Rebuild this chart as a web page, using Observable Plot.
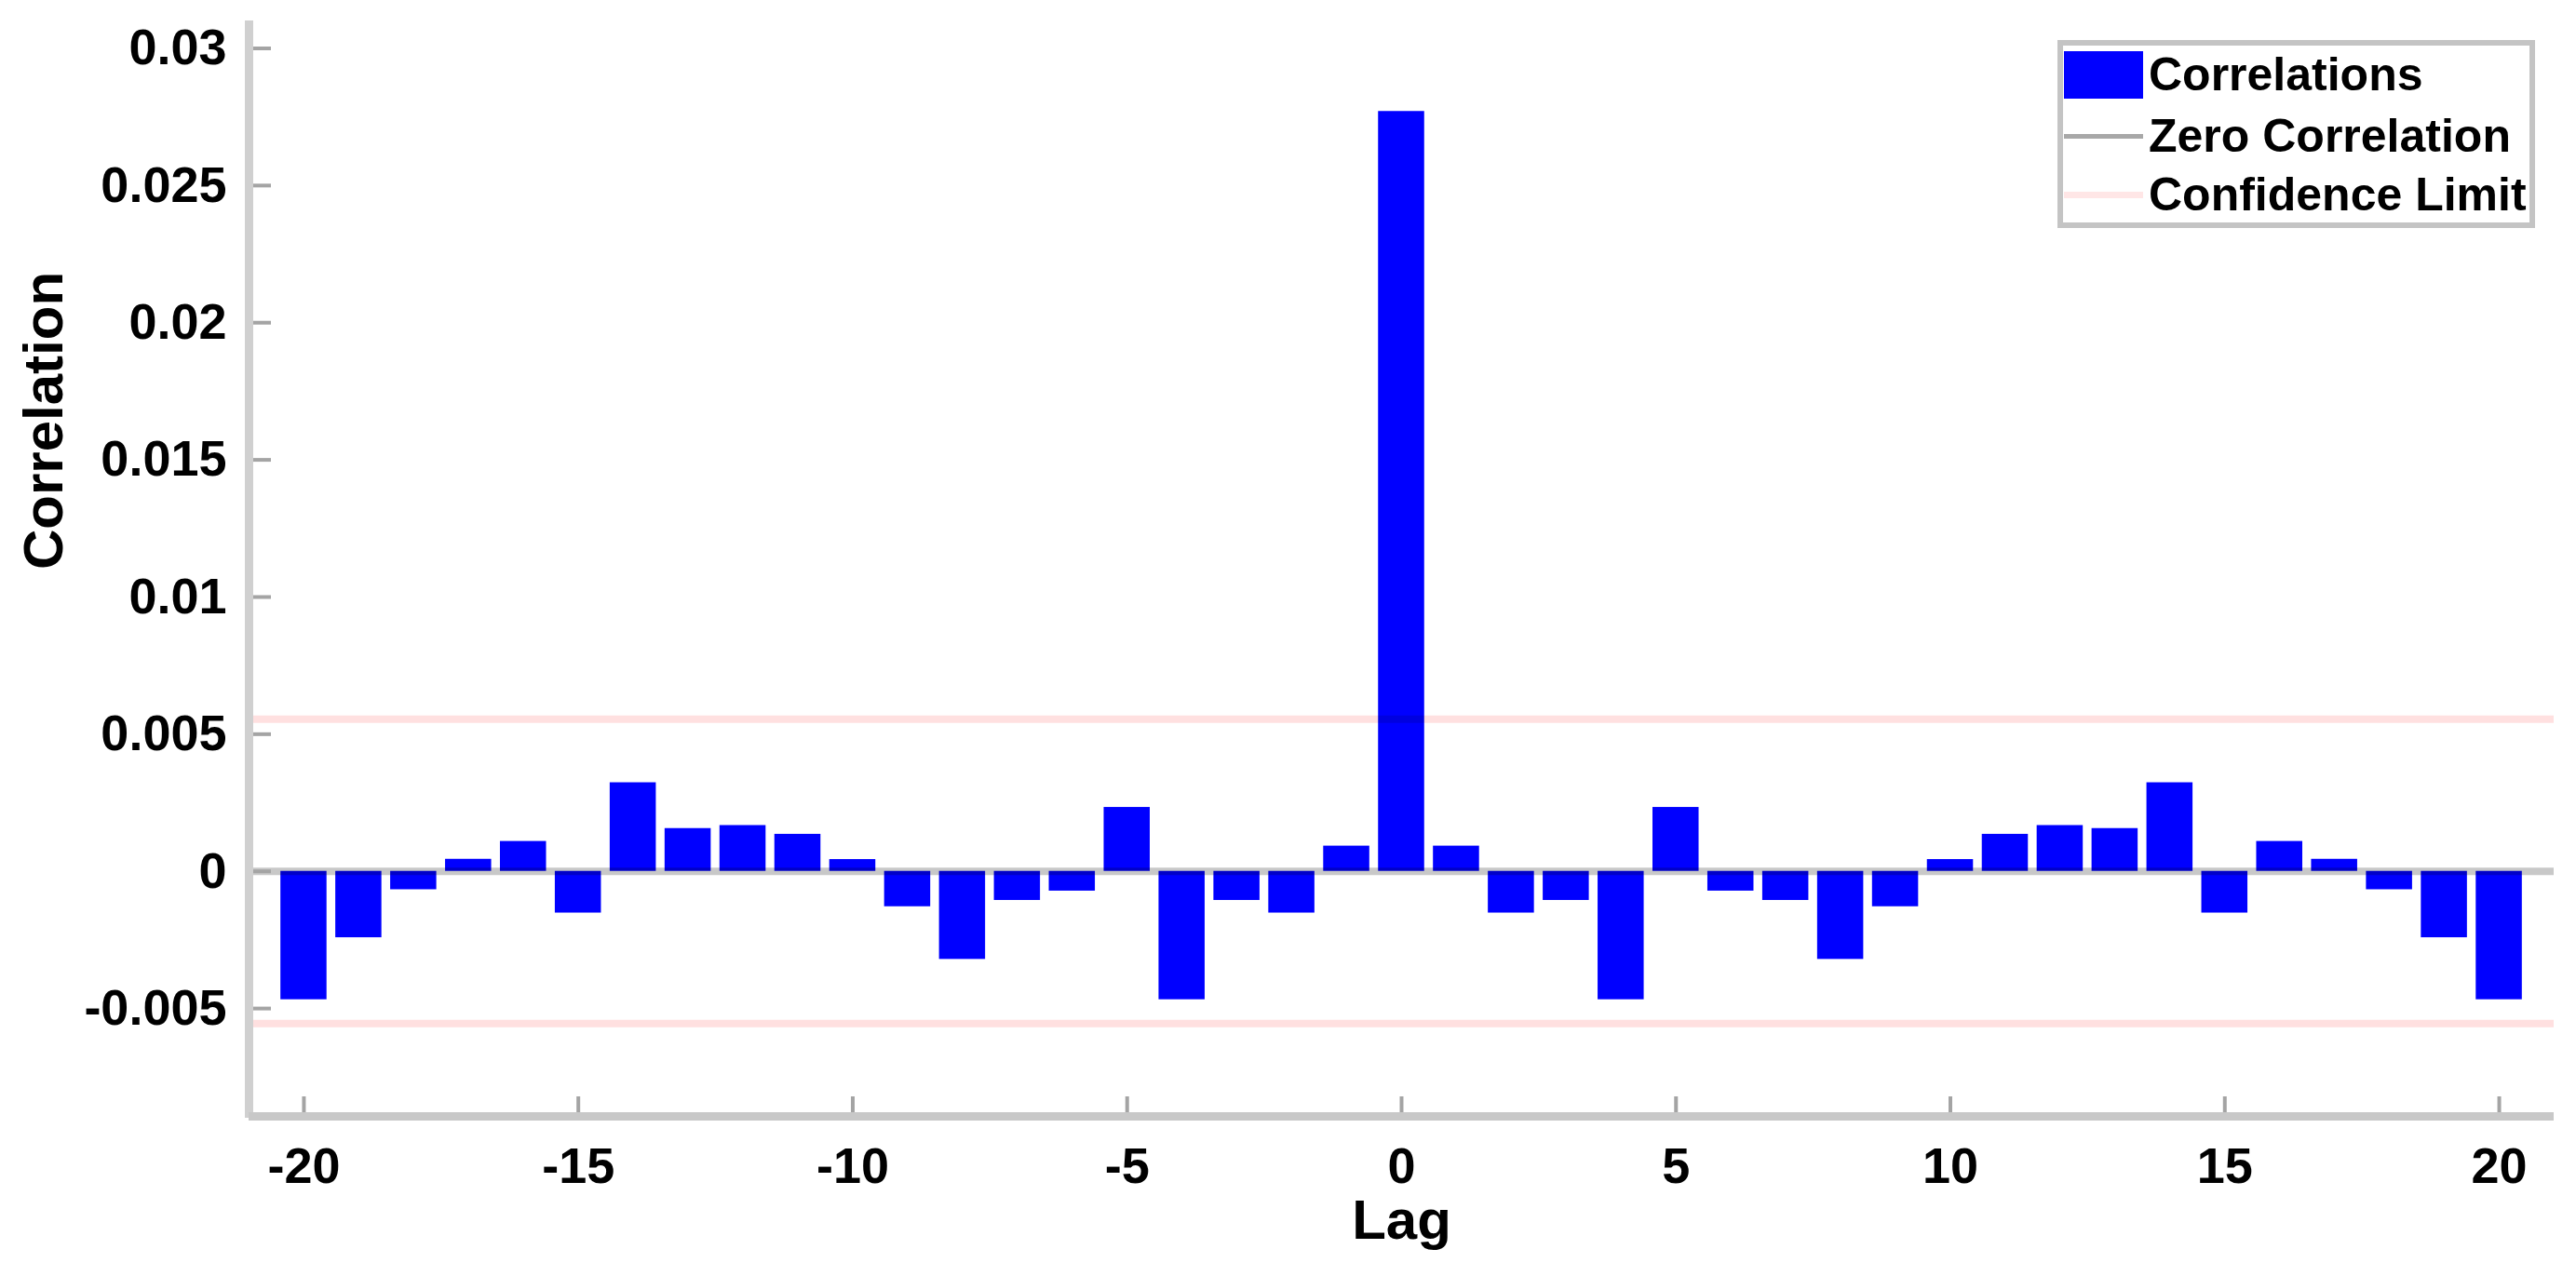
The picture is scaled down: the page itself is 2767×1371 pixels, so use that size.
<!DOCTYPE html>
<html>
<head>
<meta charset="utf-8">
<script src="https://cdn.jsdelivr.net/npm/d3@7"></script>
<script src="https://cdn.jsdelivr.net/npm/@observablehq/plot@0.6"></script>
<style>
  html, body { margin: 0; padding: 0; background: #fff; }
  #wrap { position: relative; width: 2767px; height: 1371px; }
  #legend {
    position: absolute; left: 2210px; top: 43px; width: 501px; height: 190px;
    border: 6px solid #c4c4c4; background: #fff;
    font-family: "Liberation Sans", Arial, sans-serif; font-weight: bold; font-size: 50px; color: #000;
  }
  .row { position: absolute; left: 0; height: 60px; display: flex; align-items: center; white-space: nowrap; }
  .sw { width: 85px; margin-left: 1px; margin-right: 6px; }
</style>
</head>
<body>
<div id="wrap">
  <div id="chart"></div>
  <div id="legend"></div>
</div>
<script>
// ---- data ----
const lags = [-20,-19,-18,-17,-16,-15,-14,-13,-12,-11,-10,-9,-8,-7,-6,-5,-4,-3,-2,-1,0,
              1,2,3,4,5,6,7,8,9,10,11,12,13,14,15,16,17,18,19,20];
const correlations = [
  -0.00468, -0.00242, -0.00067,  0.00044,  0.00109, -0.00152,  0.00323,  0.00156,  0.00167,  0.00135,
   0.00043, -0.00129, -0.00321, -0.00106, -0.00072,  0.00233, -0.00468, -0.00106, -0.00152,  0.00092,
   0.02770,
   0.00092, -0.00152, -0.00106, -0.00468,  0.00233, -0.00072, -0.00106, -0.00321, -0.00129,  0.00043,
   0.00135,  0.00167,  0.00156,  0.00323, -0.00152,  0.00109,  0.00044, -0.00067, -0.00242, -0.00468
];
const xTicks = [-20, -15, -10, -5, 0, 5, 10, 15, 20];
const yTicks = [-0.005, 0, 0.005, 0.01, 0.015, 0.02, 0.025, 0.03];
const xDomain = [-21, 21];
const yDomain = [-0.009, 0.031];
const confidenceLimits = [0.00555, -0.00555];
const barWidth = 0.84;
const legendLabels = ["Correlations", "Zero Correlation", "Confidence Limit"];

// ---- layout ----
const W = 2767, H = 1371;
const mL = 267, mR = 24, mT = 22, mB = 170;
const frameW = W - mL - mR, frameH = H - mT - mB;

const bars = lags.map((lag, i) => ({lag, r: correlations[i]}));

const chart = Plot.plot({
  width: W, height: H,
  marginLeft: mL, marginRight: mR, marginTop: mT, marginBottom: mB,
  style: {fontFamily: '"Liberation Sans", Arial, sans-serif', fontWeight: "bold", background: "#fff", color: "#000"},
  x: {domain: xDomain, axis: null},
  y: {domain: yDomain, axis: null},
  marks: [
    Plot.rect(bars, {
      x1: d => d.lag - barWidth / 2, x2: d => d.lag + barWidth / 2,
      y1: () => 0, y2: d => d.r, fill: "#0000ff"
    }),
    Plot.ruleY(confidenceLimits, {stroke: "#ffe0e0", strokeWidth: 8, mixBlendMode: "multiply"}),
    Plot.ruleY([0], {stroke: "#c8c8c8", strokeWidth: 8, mixBlendMode: "multiply"}),
    Plot.tickY(yTicks, {y: d => d, stroke: "#a4a4a4", strokeWidth: 4, insetRight: frameW - 24}),
    Plot.tickX(xTicks, {x: d => d, stroke: "#a4a4a4", strokeWidth: 4, insetTop: frameH - 23}),
    Plot.ruleX([xDomain[0]], {stroke: "#d0d0d0", strokeWidth: 9}),
    Plot.ruleY([yDomain[0]], {stroke: "#c8c8c8", strokeWidth: 9, dy: -2}),
    Plot.axisY({ticks: yTicks, tickSize: 0, tickPadding: 24, tickFormat: d => String(d),
                fontSize: 54, fontWeight: "bold", label: null}),
    Plot.axisX({ticks: xTicks, tickSize: 0, tickPadding: 31, tickFormat: d => String(d),
                fontSize: 54, fontWeight: "bold", label: null}),
    Plot.text(["Correlation"], {text: d => d, frameAnchor: "left", dx: -220, rotate: -90,
                fontSize: 60, fontWeight: "bold"}),
    Plot.text(["Lag"], {text: d => d, frameAnchor: "bottom", dy: 129, fontSize: 60, fontWeight: "bold"})
  ]
});
document.getElementById("chart").appendChild(chart);

// ---- legend ----
const legend = document.getElementById("legend");
const swatches = [
  '<div class="sw" style="height:51px;background:#0000ff"></div>',
  '<div class="sw" style="height:5px;background:#a8a8a8"></div>',
  '<div class="sw" style="height:7px;background:#ffe6e6"></div>'
];
const rowTops = [1, 67, 130];
legendLabels.forEach((lab, i) => {
  const row = document.createElement("div");
  row.className = "row";
  row.style.top = rowTops[i] + "px";
  row.innerHTML = swatches[i] + "<span>" + lab + "</span>";
  legend.appendChild(row);
});
</script>
</body>
</html>
